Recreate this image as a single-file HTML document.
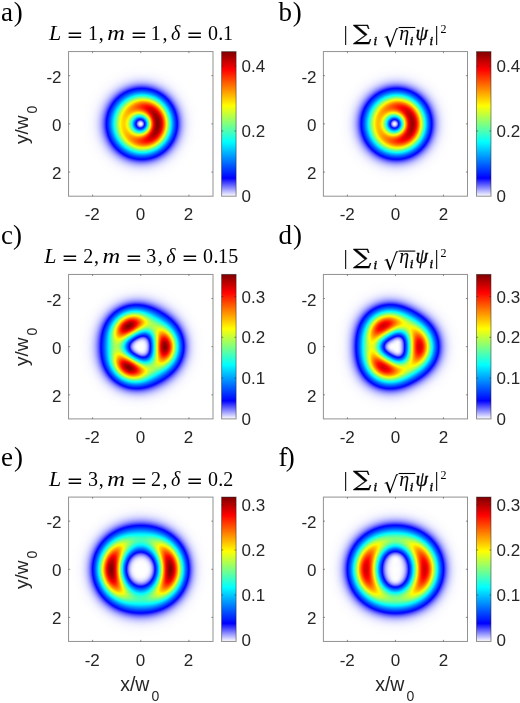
<!DOCTYPE html>
<html><head><meta charset="utf-8">
<style>
html,body{margin:0;padding:0;background:#fff;}
body{width:520px;height:703px;position:relative;overflow:hidden;}
canvas{position:absolute;left:0;top:0;}
svg{position:absolute;left:0;top:0;}
.t{font-family:"Liberation Sans",sans-serif;font-size:17px;fill:#262626;}
.lab{font-family:"Liberation Sans",sans-serif;font-size:19.5px;fill:#262626;}
.ax{fill:none;stroke:#262626;stroke-opacity:0.5;stroke-width:1px;}
.pl{font-family:"Liberation Serif",serif;font-size:27px;fill:#000;}
</style></head>
<body>
<svg id="fb" width="520" height="703" viewBox="0 0 520 703">
<defs><radialGradient id="g00" gradientUnits="userSpaceOnUse" cx="140.78" cy="123.88" r="72.22" gradientTransform="translate(140.78 123.88) scale(1.0 1.0014) translate(-140.78 -123.88)"><stop offset="0.0000" stop-color="rgb(255,255,255)"/><stop offset="0.0222" stop-color="rgb(214,214,255)"/><stop offset="0.0444" stop-color="rgb(97,97,255)"/><stop offset="0.0667" stop-color="rgb(0,43,255)"/><stop offset="0.0889" stop-color="rgb(0,157,255)"/><stop offset="0.1111" stop-color="rgb(41,241,214)"/><stop offset="0.1333" stop-color="rgb(152,255,103)"/><stop offset="0.1556" stop-color="rgb(220,208,35)"/><stop offset="0.1778" stop-color="rgb(248,144,7)"/><stop offset="0.2000" stop-color="rgb(239,102,0)"/><stop offset="0.2222" stop-color="rgb(224,82,0)"/><stop offset="0.2444" stop-color="rgb(223,80,0)"/><stop offset="0.2667" stop-color="rgb(234,94,0)"/><stop offset="0.2889" stop-color="rgb(248,125,2)"/><stop offset="0.3111" stop-color="rgb(239,173,16)"/><stop offset="0.3333" stop-color="rgb(208,222,47)"/><stop offset="0.3556" stop-color="rgb(155,254,100)"/><stop offset="0.3778" stop-color="rgb(73,253,182)"/><stop offset="0.4000" stop-color="rgb(19,226,236)"/><stop offset="0.4222" stop-color="rgb(0,171,255)"/><stop offset="0.4444" stop-color="rgb(0,106,255)"/><stop offset="0.4667" stop-color="rgb(0,52,255)"/><stop offset="0.4889" stop-color="rgb(11,23,255)"/><stop offset="0.5111" stop-color="rgb(58,58,255)"/><stop offset="0.5333" stop-color="rgb(114,114,255)"/><stop offset="0.5556" stop-color="rgb(156,156,255)"/><stop offset="0.5778" stop-color="rgb(187,187,255)"/><stop offset="0.6000" stop-color="rgb(209,209,255)"/><stop offset="0.6222" stop-color="rgb(225,225,255)"/><stop offset="0.6444" stop-color="rgb(235,235,255)"/><stop offset="0.6667" stop-color="rgb(243,243,255)"/><stop offset="0.6889" stop-color="rgb(247,247,255)"/><stop offset="0.7111" stop-color="rgb(250,250,255)"/><stop offset="0.7333" stop-color="rgb(252,252,255)"/><stop offset="0.7556" stop-color="rgb(253,253,255)"/><stop offset="0.7778" stop-color="rgb(254,254,255)"/><stop offset="0.8000" stop-color="rgb(254,254,255)"/><stop offset="0.8222" stop-color="rgb(255,255,255)"/><stop offset="0.8444" stop-color="rgb(255,255,255)"/><stop offset="0.8667" stop-color="rgb(255,255,255)"/><stop offset="0.8889" stop-color="rgb(255,255,255)"/><stop offset="0.9111" stop-color="rgb(255,255,255)"/><stop offset="0.9333" stop-color="rgb(255,255,255)"/><stop offset="0.9556" stop-color="rgb(255,255,255)"/><stop offset="0.9778" stop-color="rgb(255,255,255)"/><stop offset="1.0000" stop-color="rgb(255,255,255)"/></radialGradient><radialGradient id="g01" gradientUnits="userSpaceOnUse" cx="395.45" cy="123.88" r="72.05" gradientTransform="translate(395.45 123.88) scale(1.0 1.0038) translate(-395.45 -123.88)"><stop offset="0.0000" stop-color="rgb(244,244,255)"/><stop offset="0.0222" stop-color="rgb(203,203,255)"/><stop offset="0.0444" stop-color="rgb(87,87,255)"/><stop offset="0.0667" stop-color="rgb(5,54,255)"/><stop offset="0.0889" stop-color="rgb(0,160,255)"/><stop offset="0.1111" stop-color="rgb(48,237,207)"/><stop offset="0.1333" stop-color="rgb(152,253,103)"/><stop offset="0.1556" stop-color="rgb(220,208,35)"/><stop offset="0.1778" stop-color="rgb(251,146,4)"/><stop offset="0.2000" stop-color="rgb(244,97,0)"/><stop offset="0.2222" stop-color="rgb(232,75,0)"/><stop offset="0.2444" stop-color="rgb(231,73,0)"/><stop offset="0.2667" stop-color="rgb(241,88,0)"/><stop offset="0.2889" stop-color="rgb(254,124,0)"/><stop offset="0.3111" stop-color="rgb(244,180,11)"/><stop offset="0.3333" stop-color="rgb(213,228,42)"/><stop offset="0.3556" stop-color="rgb(155,255,100)"/><stop offset="0.3778" stop-color="rgb(71,254,184)"/><stop offset="0.4000" stop-color="rgb(16,228,239)"/><stop offset="0.4222" stop-color="rgb(0,171,255)"/><stop offset="0.4444" stop-color="rgb(0,106,255)"/><stop offset="0.4667" stop-color="rgb(0,52,255)"/><stop offset="0.4889" stop-color="rgb(10,22,255)"/><stop offset="0.5111" stop-color="rgb(58,58,255)"/><stop offset="0.5333" stop-color="rgb(114,114,255)"/><stop offset="0.5556" stop-color="rgb(156,156,255)"/><stop offset="0.5778" stop-color="rgb(187,187,255)"/><stop offset="0.6000" stop-color="rgb(209,209,255)"/><stop offset="0.6222" stop-color="rgb(225,225,255)"/><stop offset="0.6444" stop-color="rgb(235,235,255)"/><stop offset="0.6667" stop-color="rgb(243,243,255)"/><stop offset="0.6889" stop-color="rgb(247,247,255)"/><stop offset="0.7111" stop-color="rgb(250,250,255)"/><stop offset="0.7333" stop-color="rgb(252,252,255)"/><stop offset="0.7556" stop-color="rgb(253,253,255)"/><stop offset="0.7778" stop-color="rgb(254,254,255)"/><stop offset="0.8000" stop-color="rgb(254,254,255)"/><stop offset="0.8222" stop-color="rgb(255,255,255)"/><stop offset="0.8444" stop-color="rgb(255,255,255)"/><stop offset="0.8667" stop-color="rgb(255,255,255)"/><stop offset="0.8889" stop-color="rgb(255,255,255)"/><stop offset="0.9111" stop-color="rgb(255,255,255)"/><stop offset="0.9333" stop-color="rgb(255,255,255)"/><stop offset="0.9556" stop-color="rgb(255,255,255)"/><stop offset="0.9778" stop-color="rgb(255,255,255)"/><stop offset="1.0000" stop-color="rgb(255,255,255)"/></radialGradient><radialGradient id="g10" gradientUnits="userSpaceOnUse" cx="140.78" cy="346.68" r="72.22" gradientTransform="translate(140.78 346.68) scale(1.0 0.9999) translate(-140.78 -346.68)"><stop offset="0.0000" stop-color="rgb(255,255,255)"/><stop offset="0.0222" stop-color="rgb(255,255,255)"/><stop offset="0.0444" stop-color="rgb(251,251,255)"/><stop offset="0.0667" stop-color="rgb(238,238,255)"/><stop offset="0.0889" stop-color="rgb(204,204,255)"/><stop offset="0.1111" stop-color="rgb(141,141,255)"/><stop offset="0.1333" stop-color="rgb(45,48,255)"/><stop offset="0.1556" stop-color="rgb(0,49,255)"/><stop offset="0.1778" stop-color="rgb(0,136,255)"/><stop offset="0.2000" stop-color="rgb(26,210,229)"/><stop offset="0.2222" stop-color="rgb(95,246,160)"/><stop offset="0.2444" stop-color="rgb(161,230,94)"/><stop offset="0.2667" stop-color="rgb(202,184,53)"/><stop offset="0.2889" stop-color="rgb(217,146,30)"/><stop offset="0.3111" stop-color="rgb(214,130,19)"/><stop offset="0.3333" stop-color="rgb(212,124,16)"/><stop offset="0.3556" stop-color="rgb(214,129,19)"/><stop offset="0.3778" stop-color="rgb(217,145,29)"/><stop offset="0.4000" stop-color="rgb(208,174,47)"/><stop offset="0.4222" stop-color="rgb(178,216,77)"/><stop offset="0.4444" stop-color="rgb(132,248,123)"/><stop offset="0.4667" stop-color="rgb(73,239,182)"/><stop offset="0.4889" stop-color="rgb(24,209,231)"/><stop offset="0.5111" stop-color="rgb(0,162,255)"/><stop offset="0.5333" stop-color="rgb(0,98,255)"/><stop offset="0.5556" stop-color="rgb(1,46,255)"/><stop offset="0.5778" stop-color="rgb(24,36,255)"/><stop offset="0.6000" stop-color="rgb(69,69,255)"/><stop offset="0.6222" stop-color="rgb(123,123,255)"/><stop offset="0.6444" stop-color="rgb(164,164,255)"/><stop offset="0.6667" stop-color="rgb(193,193,255)"/><stop offset="0.6889" stop-color="rgb(214,214,255)"/><stop offset="0.7111" stop-color="rgb(228,228,255)"/><stop offset="0.7333" stop-color="rgb(238,238,255)"/><stop offset="0.7556" stop-color="rgb(245,245,255)"/><stop offset="0.7778" stop-color="rgb(249,249,255)"/><stop offset="0.8000" stop-color="rgb(251,251,255)"/><stop offset="0.8222" stop-color="rgb(253,253,255)"/><stop offset="0.8444" stop-color="rgb(254,254,255)"/><stop offset="0.8667" stop-color="rgb(254,254,255)"/><stop offset="0.8889" stop-color="rgb(255,255,255)"/><stop offset="0.9111" stop-color="rgb(255,255,255)"/><stop offset="0.9333" stop-color="rgb(255,255,255)"/><stop offset="0.9556" stop-color="rgb(255,255,255)"/><stop offset="0.9778" stop-color="rgb(255,255,255)"/><stop offset="1.0000" stop-color="rgb(255,255,255)"/></radialGradient><radialGradient id="g11" gradientUnits="userSpaceOnUse" cx="395.45" cy="346.68" r="72.05" gradientTransform="translate(395.45 346.68) scale(1.0 1.0024) translate(-395.45 -346.68)"><stop offset="0.0000" stop-color="rgb(255,255,255)"/><stop offset="0.0222" stop-color="rgb(254,254,255)"/><stop offset="0.0444" stop-color="rgb(250,250,255)"/><stop offset="0.0667" stop-color="rgb(236,236,255)"/><stop offset="0.0889" stop-color="rgb(201,201,255)"/><stop offset="0.1111" stop-color="rgb(137,137,255)"/><stop offset="0.1333" stop-color="rgb(46,51,255)"/><stop offset="0.1556" stop-color="rgb(1,53,255)"/><stop offset="0.1778" stop-color="rgb(0,139,255)"/><stop offset="0.2000" stop-color="rgb(22,216,233)"/><stop offset="0.2222" stop-color="rgb(90,251,165)"/><stop offset="0.2444" stop-color="rgb(173,243,82)"/><stop offset="0.2667" stop-color="rgb(219,202,36)"/><stop offset="0.2889" stop-color="rgb(242,158,13)"/><stop offset="0.3111" stop-color="rgb(248,130,4)"/><stop offset="0.3333" stop-color="rgb(246,122,2)"/><stop offset="0.3556" stop-color="rgb(247,130,4)"/><stop offset="0.3778" stop-color="rgb(242,155,13)"/><stop offset="0.4000" stop-color="rgb(223,193,32)"/><stop offset="0.4222" stop-color="rgb(189,230,66)"/><stop offset="0.4444" stop-color="rgb(135,254,120)"/><stop offset="0.4667" stop-color="rgb(67,243,188)"/><stop offset="0.4889" stop-color="rgb(21,212,234)"/><stop offset="0.5111" stop-color="rgb(0,162,255)"/><stop offset="0.5333" stop-color="rgb(0,99,255)"/><stop offset="0.5556" stop-color="rgb(3,50,255)"/><stop offset="0.5778" stop-color="rgb(28,44,255)"/><stop offset="0.6000" stop-color="rgb(68,68,255)"/><stop offset="0.6222" stop-color="rgb(120,120,255)"/><stop offset="0.6444" stop-color="rgb(161,161,255)"/><stop offset="0.6667" stop-color="rgb(191,191,255)"/><stop offset="0.6889" stop-color="rgb(212,212,255)"/><stop offset="0.7111" stop-color="rgb(227,227,255)"/><stop offset="0.7333" stop-color="rgb(237,237,255)"/><stop offset="0.7556" stop-color="rgb(244,244,255)"/><stop offset="0.7778" stop-color="rgb(248,248,255)"/><stop offset="0.8000" stop-color="rgb(251,251,255)"/><stop offset="0.8222" stop-color="rgb(252,252,255)"/><stop offset="0.8444" stop-color="rgb(254,254,255)"/><stop offset="0.8667" stop-color="rgb(254,254,255)"/><stop offset="0.8889" stop-color="rgb(255,255,255)"/><stop offset="0.9111" stop-color="rgb(255,255,255)"/><stop offset="0.9333" stop-color="rgb(255,255,255)"/><stop offset="0.9556" stop-color="rgb(255,255,255)"/><stop offset="0.9778" stop-color="rgb(255,255,255)"/><stop offset="1.0000" stop-color="rgb(255,255,255)"/></radialGradient><radialGradient id="g20" gradientUnits="userSpaceOnUse" cx="140.78" cy="569.28" r="72.22" gradientTransform="translate(140.78 569.28) scale(1.05 0.9593) translate(-140.78 -569.28)"><stop offset="0.0000" stop-color="rgb(255,255,255)"/><stop offset="0.0222" stop-color="rgb(255,255,255)"/><stop offset="0.0444" stop-color="rgb(255,255,255)"/><stop offset="0.0667" stop-color="rgb(254,254,255)"/><stop offset="0.0889" stop-color="rgb(252,252,255)"/><stop offset="0.1111" stop-color="rgb(246,246,255)"/><stop offset="0.1333" stop-color="rgb(229,229,255)"/><stop offset="0.1556" stop-color="rgb(198,198,255)"/><stop offset="0.1778" stop-color="rgb(143,143,255)"/><stop offset="0.2000" stop-color="rgb(63,64,255)"/><stop offset="0.2222" stop-color="rgb(14,49,255)"/><stop offset="0.2444" stop-color="rgb(0,101,255)"/><stop offset="0.2667" stop-color="rgb(12,174,243)"/><stop offset="0.2889" stop-color="rgb(62,216,193)"/><stop offset="0.3111" stop-color="rgb(119,230,136)"/><stop offset="0.3333" stop-color="rgb(153,205,102)"/><stop offset="0.3556" stop-color="rgb(178,169,75)"/><stop offset="0.3778" stop-color="rgb(182,151,58)"/><stop offset="0.4000" stop-color="rgb(180,144,51)"/><stop offset="0.4222" stop-color="rgb(181,145,52)"/><stop offset="0.4444" stop-color="rgb(182,154,61)"/><stop offset="0.4667" stop-color="rgb(176,173,78)"/><stop offset="0.4889" stop-color="rgb(152,207,103)"/><stop offset="0.5111" stop-color="rgb(123,229,132)"/><stop offset="0.5333" stop-color="rgb(80,224,175)"/><stop offset="0.5556" stop-color="rgb(33,196,222)"/><stop offset="0.5778" stop-color="rgb(3,156,252)"/><stop offset="0.6000" stop-color="rgb(0,97,255)"/><stop offset="0.6222" stop-color="rgb(7,55,255)"/><stop offset="0.6444" stop-color="rgb(32,48,255)"/><stop offset="0.6667" stop-color="rgb(71,71,255)"/><stop offset="0.6889" stop-color="rgb(124,124,255)"/><stop offset="0.7111" stop-color="rgb(165,165,255)"/><stop offset="0.7333" stop-color="rgb(194,194,255)"/><stop offset="0.7556" stop-color="rgb(215,215,255)"/><stop offset="0.7778" stop-color="rgb(229,229,255)"/><stop offset="0.8000" stop-color="rgb(239,239,255)"/><stop offset="0.8222" stop-color="rgb(245,245,255)"/><stop offset="0.8444" stop-color="rgb(249,249,255)"/><stop offset="0.8667" stop-color="rgb(251,251,255)"/><stop offset="0.8889" stop-color="rgb(253,253,255)"/><stop offset="0.9111" stop-color="rgb(254,254,255)"/><stop offset="0.9333" stop-color="rgb(254,254,255)"/><stop offset="0.9556" stop-color="rgb(255,255,255)"/><stop offset="0.9778" stop-color="rgb(255,255,255)"/><stop offset="1.0000" stop-color="rgb(255,255,255)"/></radialGradient><radialGradient id="g21" gradientUnits="userSpaceOnUse" cx="395.45" cy="569.28" r="72.05" gradientTransform="translate(395.45 569.28) scale(1.05 0.9617) translate(-395.45 -569.28)"><stop offset="0.0000" stop-color="rgb(255,255,255)"/><stop offset="0.0222" stop-color="rgb(254,254,255)"/><stop offset="0.0444" stop-color="rgb(253,253,255)"/><stop offset="0.0667" stop-color="rgb(250,250,255)"/><stop offset="0.0889" stop-color="rgb(245,245,255)"/><stop offset="0.1111" stop-color="rgb(234,234,255)"/><stop offset="0.1333" stop-color="rgb(215,215,255)"/><stop offset="0.1556" stop-color="rgb(181,181,255)"/><stop offset="0.1778" stop-color="rgb(125,125,255)"/><stop offset="0.2000" stop-color="rgb(66,79,255)"/><stop offset="0.2222" stop-color="rgb(25,74,255)"/><stop offset="0.2444" stop-color="rgb(0,108,255)"/><stop offset="0.2667" stop-color="rgb(16,175,239)"/><stop offset="0.2889" stop-color="rgb(63,218,192)"/><stop offset="0.3111" stop-color="rgb(120,239,135)"/><stop offset="0.3333" stop-color="rgb(162,220,93)"/><stop offset="0.3556" stop-color="rgb(195,186,60)"/><stop offset="0.3778" stop-color="rgb(213,160,41)"/><stop offset="0.4000" stop-color="rgb(217,151,32)"/><stop offset="0.4222" stop-color="rgb(218,152,33)"/><stop offset="0.4444" stop-color="rgb(213,167,42)"/><stop offset="0.4667" stop-color="rgb(195,195,60)"/><stop offset="0.4889" stop-color="rgb(164,227,91)"/><stop offset="0.5111" stop-color="rgb(122,247,133)"/><stop offset="0.5333" stop-color="rgb(69,233,186)"/><stop offset="0.5556" stop-color="rgb(25,203,230)"/><stop offset="0.5778" stop-color="rgb(0,159,255)"/><stop offset="0.6000" stop-color="rgb(0,97,255)"/><stop offset="0.6222" stop-color="rgb(6,54,255)"/><stop offset="0.6444" stop-color="rgb(31,47,255)"/><stop offset="0.6667" stop-color="rgb(69,70,255)"/><stop offset="0.6889" stop-color="rgb(122,122,255)"/><stop offset="0.7111" stop-color="rgb(163,163,255)"/><stop offset="0.7333" stop-color="rgb(192,192,255)"/><stop offset="0.7556" stop-color="rgb(213,213,255)"/><stop offset="0.7778" stop-color="rgb(228,228,255)"/><stop offset="0.8000" stop-color="rgb(238,238,255)"/><stop offset="0.8222" stop-color="rgb(244,244,255)"/><stop offset="0.8444" stop-color="rgb(249,249,255)"/><stop offset="0.8667" stop-color="rgb(251,251,255)"/><stop offset="0.8889" stop-color="rgb(253,253,255)"/><stop offset="0.9111" stop-color="rgb(254,254,255)"/><stop offset="0.9333" stop-color="rgb(254,254,255)"/><stop offset="0.9556" stop-color="rgb(255,255,255)"/><stop offset="0.9778" stop-color="rgb(255,255,255)"/><stop offset="1.0000" stop-color="rgb(255,255,255)"/></radialGradient><linearGradient id="cbg" x1="0" y1="0" x2="0" y2="1"><stop offset="0.0000" stop-color="rgb(128,0,0)"/><stop offset="0.0312" stop-color="rgb(159,0,0)"/><stop offset="0.0625" stop-color="rgb(191,0,0)"/><stop offset="0.0938" stop-color="rgb(223,0,0)"/><stop offset="0.1250" stop-color="rgb(255,0,0)"/><stop offset="0.1562" stop-color="rgb(255,32,0)"/><stop offset="0.1875" stop-color="rgb(255,64,0)"/><stop offset="0.2188" stop-color="rgb(255,96,0)"/><stop offset="0.2500" stop-color="rgb(255,128,0)"/><stop offset="0.2812" stop-color="rgb(255,159,0)"/><stop offset="0.3125" stop-color="rgb(255,191,0)"/><stop offset="0.3438" stop-color="rgb(255,223,0)"/><stop offset="0.3750" stop-color="rgb(255,255,0)"/><stop offset="0.4062" stop-color="rgb(223,255,32)"/><stop offset="0.4375" stop-color="rgb(191,255,64)"/><stop offset="0.4688" stop-color="rgb(159,255,96)"/><stop offset="0.5000" stop-color="rgb(128,255,128)"/><stop offset="0.5312" stop-color="rgb(96,255,159)"/><stop offset="0.5625" stop-color="rgb(64,255,191)"/><stop offset="0.5938" stop-color="rgb(32,255,223)"/><stop offset="0.6250" stop-color="rgb(0,255,255)"/><stop offset="0.6562" stop-color="rgb(0,223,255)"/><stop offset="0.6875" stop-color="rgb(0,191,255)"/><stop offset="0.7188" stop-color="rgb(0,159,255)"/><stop offset="0.7500" stop-color="rgb(0,128,255)"/><stop offset="0.7812" stop-color="rgb(0,96,255)"/><stop offset="0.8125" stop-color="rgb(0,64,255)"/><stop offset="0.8438" stop-color="rgb(0,32,255)"/><stop offset="0.8750" stop-color="rgb(0,0,255)"/><stop offset="0.9062" stop-color="rgb(64,64,255)"/><stop offset="0.9375" stop-color="rgb(128,128,255)"/><stop offset="0.9688" stop-color="rgb(191,191,255)"/><stop offset="1.0000" stop-color="rgb(255,255,255)"/></linearGradient></defs><rect x="68.55" y="51.55" width="144.45" height="144.65" fill="url(#g00)"/>
<rect x="323.40" y="51.55" width="144.10" height="144.65" fill="url(#g01)"/>
<rect x="68.55" y="274.46" width="144.45" height="144.44" fill="url(#g10)"/>
<rect x="323.40" y="274.46" width="144.10" height="144.44" fill="url(#g11)"/>
<rect x="68.55" y="497.10" width="144.45" height="144.35" fill="url(#g20)"/>
<rect x="323.40" y="497.10" width="144.10" height="144.35" fill="url(#g21)"/>
<rect x="221.6" y="51.55" width="14.50" height="144.65" fill="url(#cbg)"/>
<rect x="476.5" y="51.55" width="14.50" height="144.65" fill="url(#cbg)"/>
<rect x="221.6" y="274.46" width="14.50" height="144.44" fill="url(#cbg)"/>
<rect x="476.5" y="274.46" width="14.50" height="144.44" fill="url(#cbg)"/>
<rect x="221.6" y="497.1" width="14.50" height="144.35" fill="url(#cbg)"/>
<rect x="476.5" y="497.1" width="14.50" height="144.35" fill="url(#cbg)"/>
</svg>
<canvas id="cv" width="520" height="703"></canvas>
<svg width="520" height="703" viewBox="0 0 520 703">
<rect x="68.55" y="51.55" width="144.45" height="144.65" class="ax"/>
<path d="M92.62 51.55v1.6M92.62 196.2v-1.6M68.55 75.66h1.6M213.0 75.66h-1.6M140.77 51.55v1.6M140.77 196.2v-1.6M68.55 123.87h1.6M213.0 123.87h-1.6M188.93 51.55v1.6M188.93 196.2v-1.6M68.55 172.09h1.6M213.0 172.09h-1.6" class="ax"/>
<rect x="323.4" y="51.55" width="144.10" height="144.65" class="ax"/>
<path d="M347.42 51.55v1.6M347.42 196.2v-1.6M323.4 75.66h1.6M467.5 75.66h-1.6M395.45 51.55v1.6M395.45 196.2v-1.6M323.4 123.87h1.6M467.5 123.87h-1.6M443.48 51.55v1.6M443.48 196.2v-1.6M323.4 172.09h1.6M467.5 172.09h-1.6" class="ax"/>
<rect x="68.55" y="274.46" width="144.45" height="144.44" class="ax"/>
<path d="M92.62 274.46v1.6M92.62 418.9v-1.6M68.55 298.53h1.6M213.0 298.53h-1.6M140.77 274.46v1.6M140.77 418.9v-1.6M68.55 346.68h1.6M213.0 346.68h-1.6M188.93 274.46v1.6M188.93 418.9v-1.6M68.55 394.83h1.6M213.0 394.83h-1.6" class="ax"/>
<rect x="323.4" y="274.46" width="144.10" height="144.44" class="ax"/>
<path d="M347.42 274.46v1.6M347.42 418.9v-1.6M323.4 298.53h1.6M467.5 298.53h-1.6M395.45 274.46v1.6M395.45 418.9v-1.6M323.4 346.68h1.6M467.5 346.68h-1.6M443.48 274.46v1.6M443.48 418.9v-1.6M323.4 394.83h1.6M467.5 394.83h-1.6" class="ax"/>
<rect x="68.55" y="497.1" width="144.45" height="144.35" class="ax"/>
<path d="M92.62 497.1v1.6M92.62 641.45v-1.6M68.55 521.16h1.6M213.0 521.16h-1.6M140.77 497.1v1.6M140.77 641.45v-1.6M68.55 569.28h1.6M213.0 569.28h-1.6M188.93 497.1v1.6M188.93 641.45v-1.6M68.55 617.39h1.6M213.0 617.39h-1.6" class="ax"/>
<rect x="323.4" y="497.1" width="144.10" height="144.35" class="ax"/>
<path d="M347.42 497.1v1.6M347.42 641.45v-1.6M323.4 521.16h1.6M467.5 521.16h-1.6M395.45 497.1v1.6M395.45 641.45v-1.6M323.4 569.28h1.6M467.5 569.28h-1.6M443.48 497.1v1.6M443.48 641.45v-1.6M323.4 617.39h1.6M467.5 617.39h-1.6" class="ax"/>
<text class="pl" x="1" y="20.5">a<tspan dx="0.8">)</tspan></text>
<text class="pl" x="278.5" y="20.5">b<tspan dx="0.8">)</tspan></text>
<text class="pl" x="1" y="243.5">c<tspan dx="0.0">)</tspan></text>
<text class="pl" x="278.5" y="243.5">d<tspan dx="1.0">)</tspan></text>
<text class="pl" x="1" y="466">e<tspan dx="1.0">)</tspan></text>
<text class="pl" x="278.5" y="466">f<tspan dx="-1.8">)</tspan></text>
<text transform="translate(49.07 39.60) scale(1.095 1)" style="font-family:&quot;Liberation Serif&quot;,serif;font-size:20px;font-style:italic">L</text>
<text x="66.38" y="41.70" style="font-family:&quot;DejaVu Serif&quot;,serif;font-size:20px">=</text>
<text x="87.90" y="39.60" style="font-family:&quot;Liberation Serif&quot;,serif;font-size:20px">1</text>
<text x="98.85" y="39.60" style="font-family:&quot;Liberation Serif&quot;,serif;font-size:20px">,</text>
<text transform="translate(107.28 39.60) scale(1.224 1)" style="font-family:&quot;Liberation Serif&quot;,serif;font-size:20px;font-style:italic">m</text>
<text x="130.43" y="41.70" style="font-family:&quot;DejaVu Serif&quot;,serif;font-size:20px">=</text>
<text x="150.85" y="39.60" style="font-family:&quot;Liberation Serif&quot;,serif;font-size:20px">1</text>
<text x="162.55" y="39.60" style="font-family:&quot;Liberation Serif&quot;,serif;font-size:20px">,</text>
<text x="171.00" y="39.60" style="font-family:&quot;Liberation Serif&quot;,serif;font-size:20px;font-style:italic">δ</text>
<text x="186.22" y="41.70" style="font-family:&quot;DejaVu Serif&quot;,serif;font-size:20px">=</text>
<text x="207.90" y="39.60" style="font-family:&quot;Liberation Serif&quot;,serif;font-size:20px">0</text>
<text x="218.25" y="39.60" style="font-family:&quot;Liberation Serif&quot;,serif;font-size:20px">.</text>
<text x="223.00" y="39.60" style="font-family:&quot;Liberation Serif&quot;,serif;font-size:20px">1</text>
<text x="343.38" y="40.45" style="font-family:&quot;Liberation Serif&quot;,serif;font-size:21.5px">|</text>
<text transform="translate(353.30 40.25) scale(1.207 1)" style="font-family:&quot;DejaVu Serif&quot;,serif;font-size:21px;stroke:#000;stroke-width:0.35px">∑</text>
<text x="373.50" y="45.30" style="font-family:&quot;Liberation Serif&quot;,serif;font-size:13px;font-style:italic;stroke:#000;stroke-width:0.45px">i</text>
<text transform="translate(383.86 46.60) scale(0.986 1)" style="font-family:&quot;DejaVu Serif&quot;,serif;font-size:23px">√</text>
<path d="M398.6 27.50H415.3" stroke="#000" stroke-width="1.1" fill="none"/>
<text x="399.18" y="39.80" style="font-family:&quot;Liberation Serif&quot;,serif;font-size:20px;font-style:italic">η</text>
<text x="409.75" y="44.80" style="font-family:&quot;Liberation Serif&quot;,serif;font-size:13px;font-style:italic;stroke:#000;stroke-width:0.45px">i</text>
<text x="415.55" y="39.80" style="font-family:&quot;Liberation Serif&quot;,serif;font-size:20px;font-style:italic;stroke:#000;stroke-width:0.3px">ψ</text>
<text x="429.40" y="44.80" style="font-family:&quot;Liberation Serif&quot;,serif;font-size:13px;font-style:italic;stroke:#000;stroke-width:0.45px">i</text>
<text x="434.57" y="40.45" style="font-family:&quot;Liberation Serif&quot;,serif;font-size:21.5px">|</text>
<text x="440.57" y="33.20" style="font-family:&quot;Liberation Serif&quot;,serif;font-size:12px">2</text>
<text x="61.50" y="82.60" class="t" text-anchor="end">-2</text>
<text x="61.50" y="130.60" class="t" text-anchor="end">0</text>
<text x="61.50" y="178.60" class="t" text-anchor="end">2</text>
<text x="92.20" y="220.30" class="t" text-anchor="middle">-2</text>
<text x="140.50" y="220.30" class="t" text-anchor="middle">0</text>
<text x="188.50" y="220.30" class="t" text-anchor="middle">2</text>
<text x="241.60" y="72.10" class="t">0.4</text>
<text x="241.60" y="137.10" class="t">0.2</text>
<text x="241.60" y="202.10" class="t">0</text>
<text x="316.50" y="82.60" class="t" text-anchor="end">-2</text>
<text x="316.50" y="130.60" class="t" text-anchor="end">0</text>
<text x="316.50" y="178.60" class="t" text-anchor="end">2</text>
<text x="347.20" y="220.30" class="t" text-anchor="middle">-2</text>
<text x="395.50" y="220.30" class="t" text-anchor="middle">0</text>
<text x="443.50" y="220.30" class="t" text-anchor="middle">2</text>
<text x="496.60" y="72.10" class="t">0.4</text>
<text x="496.60" y="137.10" class="t">0.2</text>
<text x="496.60" y="202.10" class="t">0</text>
<text class="lab" transform="translate(28.0 144.00) rotate(-90)" style="font-size:19px">y/w<tspan dx="2" dy="9" style="font-size:14px">0</tspan></text>
<text transform="translate(44.27 263.20) scale(1.095 1)" style="font-family:&quot;Liberation Serif&quot;,serif;font-size:20px;font-style:italic">L</text>
<text x="61.58" y="265.30" style="font-family:&quot;DejaVu Serif&quot;,serif;font-size:20px">=</text>
<text x="83.35" y="263.20" style="font-family:&quot;Liberation Serif&quot;,serif;font-size:20px">2</text>
<text x="94.05" y="263.20" style="font-family:&quot;Liberation Serif&quot;,serif;font-size:20px">,</text>
<text transform="translate(102.48 263.20) scale(1.224 1)" style="font-family:&quot;Liberation Serif&quot;,serif;font-size:20px;font-style:italic">m</text>
<text x="125.62" y="265.30" style="font-family:&quot;DejaVu Serif&quot;,serif;font-size:20px">=</text>
<text x="146.17" y="263.20" style="font-family:&quot;Liberation Serif&quot;,serif;font-size:20px">3</text>
<text x="157.75" y="263.20" style="font-family:&quot;Liberation Serif&quot;,serif;font-size:20px">,</text>
<text x="166.20" y="263.20" style="font-family:&quot;Liberation Serif&quot;,serif;font-size:20px;font-style:italic">δ</text>
<text x="181.42" y="265.30" style="font-family:&quot;DejaVu Serif&quot;,serif;font-size:20px">=</text>
<text x="203.10" y="263.20" style="font-family:&quot;Liberation Serif&quot;,serif;font-size:20px">0</text>
<text x="213.45" y="263.20" style="font-family:&quot;Liberation Serif&quot;,serif;font-size:20px">.</text>
<text x="218.10" y="263.20" style="font-family:&quot;Liberation Serif&quot;,serif;font-size:20px">1</text>
<text x="228.25" y="263.20" style="font-family:&quot;Liberation Serif&quot;,serif;font-size:20px">5</text>
<text x="343.38" y="264.05" style="font-family:&quot;Liberation Serif&quot;,serif;font-size:21.5px">|</text>
<text transform="translate(353.30 263.85) scale(1.207 1)" style="font-family:&quot;DejaVu Serif&quot;,serif;font-size:21px;stroke:#000;stroke-width:0.35px">∑</text>
<text x="373.50" y="268.90" style="font-family:&quot;Liberation Serif&quot;,serif;font-size:13px;font-style:italic;stroke:#000;stroke-width:0.45px">i</text>
<text transform="translate(383.86 270.20) scale(0.986 1)" style="font-family:&quot;DejaVu Serif&quot;,serif;font-size:23px">√</text>
<path d="M398.6 251.10H415.3" stroke="#000" stroke-width="1.1" fill="none"/>
<text x="399.18" y="263.40" style="font-family:&quot;Liberation Serif&quot;,serif;font-size:20px;font-style:italic">η</text>
<text x="409.75" y="268.40" style="font-family:&quot;Liberation Serif&quot;,serif;font-size:13px;font-style:italic;stroke:#000;stroke-width:0.45px">i</text>
<text x="415.55" y="263.40" style="font-family:&quot;Liberation Serif&quot;,serif;font-size:20px;font-style:italic;stroke:#000;stroke-width:0.3px">ψ</text>
<text x="429.40" y="268.40" style="font-family:&quot;Liberation Serif&quot;,serif;font-size:13px;font-style:italic;stroke:#000;stroke-width:0.45px">i</text>
<text x="434.57" y="264.05" style="font-family:&quot;Liberation Serif&quot;,serif;font-size:21.5px">|</text>
<text x="440.57" y="256.80" style="font-family:&quot;Liberation Serif&quot;,serif;font-size:12px">2</text>
<text x="61.50" y="305.60" class="t" text-anchor="end">-2</text>
<text x="61.50" y="353.60" class="t" text-anchor="end">0</text>
<text x="61.50" y="401.60" class="t" text-anchor="end">2</text>
<text x="92.20" y="443.30" class="t" text-anchor="middle">-2</text>
<text x="140.50" y="443.30" class="t" text-anchor="middle">0</text>
<text x="188.50" y="443.30" class="t" text-anchor="middle">2</text>
<text x="241.60" y="302.60" class="t">0.3</text>
<text x="241.60" y="343.40" class="t">0.2</text>
<text x="241.60" y="384.20" class="t">0.1</text>
<text x="241.60" y="425.00" class="t">0</text>
<text x="316.50" y="305.60" class="t" text-anchor="end">-2</text>
<text x="316.50" y="353.60" class="t" text-anchor="end">0</text>
<text x="316.50" y="401.60" class="t" text-anchor="end">2</text>
<text x="347.20" y="443.30" class="t" text-anchor="middle">-2</text>
<text x="395.50" y="443.30" class="t" text-anchor="middle">0</text>
<text x="443.50" y="443.30" class="t" text-anchor="middle">2</text>
<text x="496.60" y="302.60" class="t">0.3</text>
<text x="496.60" y="343.40" class="t">0.2</text>
<text x="496.60" y="384.20" class="t">0.1</text>
<text x="496.60" y="425.00" class="t">0</text>
<text class="lab" transform="translate(28.0 366.00) rotate(-90)" style="font-size:19px">y/w<tspan dx="2" dy="9" style="font-size:14px">0</tspan></text>
<text transform="translate(49.07 485.60) scale(1.095 1)" style="font-family:&quot;Liberation Serif&quot;,serif;font-size:20px;font-style:italic">L</text>
<text x="66.38" y="487.70" style="font-family:&quot;DejaVu Serif&quot;,serif;font-size:20px">=</text>
<text x="88.03" y="485.60" style="font-family:&quot;Liberation Serif&quot;,serif;font-size:20px">3</text>
<text x="98.85" y="485.60" style="font-family:&quot;Liberation Serif&quot;,serif;font-size:20px">,</text>
<text transform="translate(107.28 485.60) scale(1.224 1)" style="font-family:&quot;Liberation Serif&quot;,serif;font-size:20px;font-style:italic">m</text>
<text x="130.43" y="487.70" style="font-family:&quot;DejaVu Serif&quot;,serif;font-size:20px">=</text>
<text x="151.10" y="485.60" style="font-family:&quot;Liberation Serif&quot;,serif;font-size:20px">2</text>
<text x="162.55" y="485.60" style="font-family:&quot;Liberation Serif&quot;,serif;font-size:20px">,</text>
<text x="171.00" y="485.60" style="font-family:&quot;Liberation Serif&quot;,serif;font-size:20px;font-style:italic">δ</text>
<text x="186.22" y="487.70" style="font-family:&quot;DejaVu Serif&quot;,serif;font-size:20px">=</text>
<text x="207.90" y="485.60" style="font-family:&quot;Liberation Serif&quot;,serif;font-size:20px">0</text>
<text x="218.25" y="485.60" style="font-family:&quot;Liberation Serif&quot;,serif;font-size:20px">.</text>
<text x="223.25" y="485.60" style="font-family:&quot;Liberation Serif&quot;,serif;font-size:20px">2</text>
<text x="343.38" y="486.45" style="font-family:&quot;Liberation Serif&quot;,serif;font-size:21.5px">|</text>
<text transform="translate(353.30 486.25) scale(1.207 1)" style="font-family:&quot;DejaVu Serif&quot;,serif;font-size:21px;stroke:#000;stroke-width:0.35px">∑</text>
<text x="373.50" y="491.30" style="font-family:&quot;Liberation Serif&quot;,serif;font-size:13px;font-style:italic;stroke:#000;stroke-width:0.45px">i</text>
<text transform="translate(383.86 492.60) scale(0.986 1)" style="font-family:&quot;DejaVu Serif&quot;,serif;font-size:23px">√</text>
<path d="M398.6 473.50H415.3" stroke="#000" stroke-width="1.1" fill="none"/>
<text x="399.18" y="485.80" style="font-family:&quot;Liberation Serif&quot;,serif;font-size:20px;font-style:italic">η</text>
<text x="409.75" y="490.80" style="font-family:&quot;Liberation Serif&quot;,serif;font-size:13px;font-style:italic;stroke:#000;stroke-width:0.45px">i</text>
<text x="415.55" y="485.80" style="font-family:&quot;Liberation Serif&quot;,serif;font-size:20px;font-style:italic;stroke:#000;stroke-width:0.3px">ψ</text>
<text x="429.40" y="490.80" style="font-family:&quot;Liberation Serif&quot;,serif;font-size:13px;font-style:italic;stroke:#000;stroke-width:0.45px">i</text>
<text x="434.57" y="486.45" style="font-family:&quot;Liberation Serif&quot;,serif;font-size:21.5px">|</text>
<text x="440.57" y="479.20" style="font-family:&quot;Liberation Serif&quot;,serif;font-size:12px">2</text>
<text x="61.50" y="528.10" class="t" text-anchor="end">-2</text>
<text x="61.50" y="576.10" class="t" text-anchor="end">0</text>
<text x="61.50" y="624.10" class="t" text-anchor="end">2</text>
<text x="92.20" y="665.80" class="t" text-anchor="middle">-2</text>
<text x="140.50" y="665.80" class="t" text-anchor="middle">0</text>
<text x="188.50" y="665.80" class="t" text-anchor="middle">2</text>
<text x="241.60" y="511.10" class="t">0.3</text>
<text x="241.60" y="556.10" class="t">0.2</text>
<text x="241.60" y="601.10" class="t">0.1</text>
<text x="241.60" y="646.10" class="t">0</text>
<text x="316.50" y="528.10" class="t" text-anchor="end">-2</text>
<text x="316.50" y="576.10" class="t" text-anchor="end">0</text>
<text x="316.50" y="624.10" class="t" text-anchor="end">2</text>
<text x="347.20" y="665.80" class="t" text-anchor="middle">-2</text>
<text x="395.50" y="665.80" class="t" text-anchor="middle">0</text>
<text x="443.50" y="665.80" class="t" text-anchor="middle">2</text>
<text x="496.60" y="511.10" class="t">0.3</text>
<text x="496.60" y="556.10" class="t">0.2</text>
<text x="496.60" y="601.10" class="t">0.1</text>
<text x="496.60" y="646.10" class="t">0</text>
<text class="lab" transform="translate(28.0 589.00) rotate(-90)" style="font-size:19px">y/w<tspan dx="2" dy="9" style="font-size:14px">0</tspan></text>
<text class="lab" x="120.20" y="691.4">x/w<tspan dx="2" dy="9.2" style="font-size:14px">0</tspan></text>
<text class="lab" x="375.20" y="691.4">x/w<tspan dx="2" dy="9.2" style="font-size:14px">0</tspan></text>
<rect x="221.6" y="51.55" width="14.50" height="144.65" class="ax"/>
<path d="M236.1 66.0h-1.6M221.6 66.0h1.6" class="ax"/>
<path d="M236.1 131.0h-1.6M221.6 131.0h1.6" class="ax"/>
<rect x="476.5" y="51.55" width="14.50" height="144.65" class="ax"/>
<path d="M491.0 66.0h-1.6M476.5 66.0h1.6" class="ax"/>
<path d="M491.0 131.0h-1.6M476.5 131.0h1.6" class="ax"/>
<rect x="221.6" y="274.46" width="14.50" height="144.44" class="ax"/>
<path d="M236.1 296.5h-1.6M221.6 296.5h1.6" class="ax"/>
<path d="M236.1 337.3h-1.6M221.6 337.3h1.6" class="ax"/>
<path d="M236.1 378.1h-1.6M221.6 378.1h1.6" class="ax"/>
<rect x="476.5" y="274.46" width="14.50" height="144.44" class="ax"/>
<path d="M491.0 296.5h-1.6M476.5 296.5h1.6" class="ax"/>
<path d="M491.0 337.3h-1.6M476.5 337.3h1.6" class="ax"/>
<path d="M491.0 378.1h-1.6M476.5 378.1h1.6" class="ax"/>
<rect x="221.6" y="497.1" width="14.50" height="144.35" class="ax"/>
<path d="M236.1 505.0h-1.6M221.6 505.0h1.6" class="ax"/>
<path d="M236.1 550.0h-1.6M221.6 550.0h1.6" class="ax"/>
<path d="M236.1 595.0h-1.6M221.6 595.0h1.6" class="ax"/>
<rect x="476.5" y="497.1" width="14.50" height="144.35" class="ax"/>
<path d="M491.0 505.0h-1.6M476.5 505.0h1.6" class="ax"/>
<path d="M491.0 550.0h-1.6M476.5 550.0h1.6" class="ax"/>
<path d="M491.0 595.0h-1.6M476.5 595.0h1.6" class="ax"/>
</svg>
<script>
(function(){
var cv=document.getElementById('cv');var ctx=cv.getContext('2d');
var W=520,H=703;var img=ctx.createImageData(W,H);var d=img.data;
for(var i=0;i<d.length;i++)d[i]=255;
function cmap(t){
  if(t<0)t=0;if(t>1)t=1;
  var r,g,b;
  if(t<0.125){var s=t/0.125;r=1-s;g=1-s;b=1;}
  else if(t<0.375){r=0;g=(t-0.125)/0.25;b=1;}
  else if(t<0.625){r=(t-0.375)/0.25;g=1;b=1-r;}
  else if(t<0.875){r=1;g=1-(t-0.625)/0.25;b=0;}
  else {r=1-0.5*(t-0.875)/0.125;g=0;b=0;}
  return [r*255,g*255,b*255];
}
function fact(n){var f=1;for(var k=2;k<=n;k++)f*=k;return f;}
var BX=[[68.55, 213.0], [323.4, 467.5]], BY=[[51.55, 196.2], [274.46, 418.9], [497.1, 641.45]], CB=[[221.6, 236.1], [476.5, 491.0]];
var panels=[[1,1,0.1],[2,3,0.15],[3,2,0.2]];
var SS=3;
for(var p=0;p<3;p++){
  var L=panels[p][0],m=panels[p][1],dl=panels[p][2];
  var nrm=1/Math.sqrt(1+dl*dl/2);
  var Imax=2/(Math.PI*fact(L))*Math.pow(L,L)*Math.exp(-L)*(1+dl)*(1+dl)*nrm*nrm;
  var ls=[L,L+m,L-m], cs=[nrm,nrm*dl/2,nrm*dl/2];
  var y0=BY[p][0],y1=BY[p][1];
  for(var c=0;c<2;c++){
    var x0=BX[c][0],x1=BX[c][1];
    for(var py=Math.floor(y0);py<=Math.floor(y1);py++){
      for(var px=Math.floor(x0);px<=Math.floor(x1);px++){
        var acc=[0,0,0];
        for(var sy=0;sy<SS;sy++)for(var sx=0;sx<SS;sx++){
        var X=px+(sx+0.5)/SS, Y=py+(sy+0.5)/SS;
        var col;
        if(X<x0||X>x1||Y<y0||Y>y1){col=[255,255,255];}
        else{
        var x=-3+6*(X-x0)/(x1-x0), y=-3+6*(Y-y0)/(y1-y0);
        var r2=x*x+y*y; var ph=Math.atan2(-y,x); var I;
        if(c==0){
          var a=1+dl*Math.cos(m*ph);
          I=2/(Math.PI*fact(L))*Math.pow(2*r2,L)*Math.exp(-2*r2)*a*a*nrm*nrm;
        } else {
          var re=0,im=0,sr=Math.sqrt(2*r2),g=Math.exp(-r2);
          for(var q=0;q<3;q++){
            var l=ls[q],al=Math.abs(l);
            var amp=cs[q]*Math.sqrt(2/(Math.PI*fact(al)))*Math.pow(sr,al)*g;
            re+=amp*Math.cos(l*ph); im+=amp*Math.sin(l*ph);
          }
          I=re*re+im*im;
        }
        col=cmap(I/Imax);}
        acc[0]+=col[0];acc[1]+=col[1];acc[2]+=col[2];
        }
        var k=(py*W+px)*4,n=SS*SS;
        d[k]=acc[0]/n;d[k+1]=acc[1]/n;d[k+2]=acc[2]/n;d[k+3]=255;
      }
    }
    var cx0=CB[c][0],cx1=CB[c][1];
    for(var py=Math.floor(y0);py<=Math.floor(y1);py++){
      var acc=[0,0,0],cnt=0;
      for(var sy=0;sy<SS;sy++){var Y=py+(sy+0.5)/SS; var col;
        if(Y<y0||Y>y1)col=[255,255,255]; else col=cmap((y1-Y)/(y1-y0));
        acc[0]+=col[0];acc[1]+=col[1];acc[2]+=col[2];}
      for(var px=Math.floor(cx0);px<=Math.floor(cx1);px++){
        var cov=Math.max(0,Math.min(px+1,cx1)-Math.max(px,cx0));
        var k=(py*W+px)*4;
        for(var ch=0;ch<3;ch++){d[k+ch]=(acc[ch]/SS)*cov+255*(1-cov);}
        d[k+3]=255;
      }
    }
  }
}
ctx.putImageData(img,0,0);
})();

</script>
</body></html>
